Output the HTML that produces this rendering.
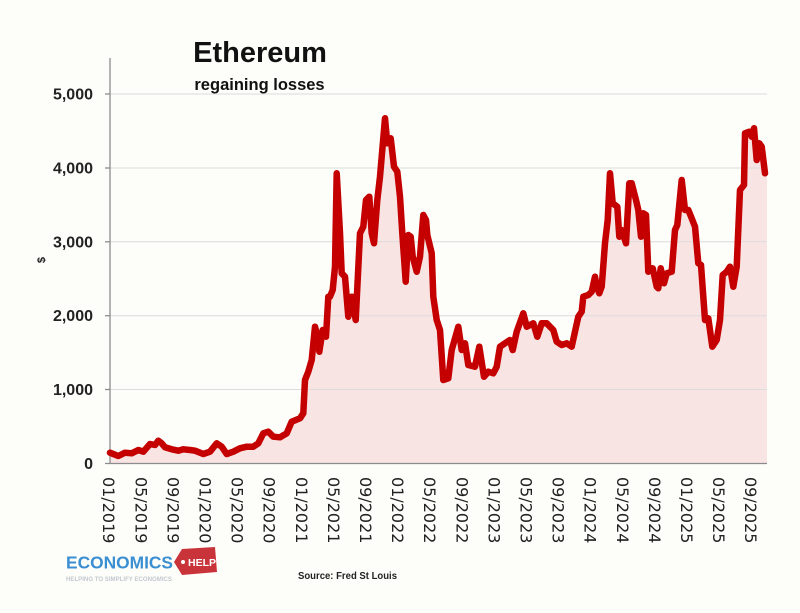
<!DOCTYPE html>
<html>
<head>
<meta charset="utf-8">
<style>
html,body{margin:0;padding:0;background:#fdfdf9;}
svg{display:block;}
</style>
</head>
<body>
<svg width="800" height="613" viewBox="0 0 800 613" xmlns="http://www.w3.org/2000/svg">
<rect x="0" y="0" width="800" height="613" fill="#fdfdf9"/>

<!-- fill area -->
<polygon fill="#f9e4e4" points="110,452.7 118.3,456 125,452.7 131.7,453.3 138.3,450 143.3,451.7 150,444 155,445 158.3,440.7 161.7,443.3 165,447.3 171.7,449.3 178.3,450.7 183.3,449.3 190,450 195,450.7 203.3,454 210,451.7 216.7,443.3 221.7,446.7 226.7,454 233.3,451.7 240,448.3 246.7,446.7 253.3,446.7 258.3,443.3 263.3,433.3 268.3,431.7 273.3,436.7 280,437.3 286.7,433.3 291.7,421.7 300,418.3 303.3,413.3 305,380 308.3,371.7 311.7,360 315,326.7 318.3,340 319.3,351.7 322.7,330 326,336.7 328.3,296.7 330,296.7 332.7,290 335,266.7 336.7,173.3 340,233 341.7,273.3 345,276.7 348.3,316.7 351.7,296.7 355.7,320 360,233.3 363.3,226.7 366,200 369.3,196.7 371.7,233.3 374,243.3 377.3,200 380,176.7 385,118.3 387.3,143.3 390.7,138.3 394,166.7 397.3,171.7 400,196.7 402.3,233.3 405.7,281.7 408.3,235 410.7,236.7 412.7,256.7 416.7,271.7 420,256.7 423.3,215 426,220 427.3,235 431.7,253.3 433.3,296.7 436.7,320 440,330 443.3,380 448.3,378.3 451.7,350 458.3,326.7 461.7,350 465,343.3 468.3,365 475,366.7 479.3,346.7 484,376.7 488.3,371.7 493.3,373.3 496.7,366.7 500,346.7 505,343.3 510,340 512.7,350 516.7,331.7 523.3,313.3 526.7,326.7 533.3,323.3 537.3,336.7 541.7,323.3 546.7,323.3 550,326.7 553.3,330 556.7,341.7 561.7,345 566.7,343.3 571.7,346.7 575,331.7 578.3,316.7 581.7,311.7 583.3,296.7 588.3,295 591.7,291.7 595,276.7 596.7,286.7 599.3,293.3 601.7,286.7 605,243.3 607.7,220 610,173.3 612.7,203.3 617.3,206.7 619.3,236.7 621.7,230 626,243.3 629.3,183.3 631.7,183.3 636,200 638.3,210 641,236.7 643.3,213.3 646,215 648.3,271.7 652.7,268.3 656.7,286.7 658.3,288.3 660.7,268.3 664,283.3 666.7,273.3 671.7,271.7 675,230 677.3,225 681.7,180 685,210 688.3,210 691.7,218.3 695,226.7 698.3,263.3 701,265 705,320 708.3,318.3 712.3,346.7 716.7,340 720,320 722.7,275 726.7,271.7 730,266.7 733.3,286.7 736.7,266.7 740,190 744,185 745,133.3 749.3,131.7 751.7,136.7 754,128.3 756.7,160 759.3,143.3 761.7,146.7 765,173.3 767,175 767,463 110,463"/>

<!-- gridlines -->
<g stroke="#dcdcdc" stroke-width="1">
<line x1="110" y1="389.5" x2="767" y2="389.5"/>
<line x1="110" y1="315.7" x2="767" y2="315.7"/>
<line x1="110" y1="241.8" x2="767" y2="241.8"/>
<line x1="110" y1="168" x2="767" y2="168"/>
<line x1="110" y1="94" x2="767" y2="94"/>
</g>

<!-- axes -->
<g stroke="#8c8c8c" stroke-width="1.3">
<line x1="110" y1="58" x2="110" y2="463.5"/>
<line x1="105" y1="463.5" x2="767" y2="463.5"/>
<line x1="105" y1="389.5" x2="110" y2="389.5"/>
<line x1="105" y1="315.7" x2="110" y2="315.7"/>
<line x1="105" y1="241.8" x2="110" y2="241.8"/>
<line x1="105" y1="168" x2="110" y2="168"/>
<line x1="105" y1="94" x2="110" y2="94"/>
</g>

<!-- series line -->
<polyline fill="none" stroke="#c40000" stroke-width="6.5" stroke-linejoin="round" stroke-linecap="round" points="110,452.7 118.3,456 125,452.7 131.7,453.3 138.3,450 143.3,451.7 150,444 155,445 158.3,440.7 161.7,443.3 165,447.3 171.7,449.3 178.3,450.7 183.3,449.3 190,450 195,450.7 203.3,454 210,451.7 216.7,443.3 221.7,446.7 226.7,454 233.3,451.7 240,448.3 246.7,446.7 253.3,446.7 258.3,443.3 263.3,433.3 268.3,431.7 273.3,436.7 280,437.3 286.7,433.3 291.7,421.7 300,418.3 303.3,413.3 305,380 308.3,371.7 311.7,360 315,326.7 318.3,340 319.3,351.7 322.7,330 326,336.7 328.3,296.7 330,296.7 332.7,290 335,266.7 336.7,173.3 340,233 341.7,273.3 345,276.7 348.3,316.7 351.7,296.7 355.7,320 360,233.3 363.3,226.7 366,200 369.3,196.7 371.7,233.3 374,243.3 377.3,200 380,176.7 385,118.3 387.3,143.3 390.7,138.3 394,166.7 397.3,171.7 400,196.7 402.3,233.3 405.7,281.7 408.3,235 410.7,236.7 412.7,256.7 416.7,271.7 420,256.7 423.3,215 426,220 427.3,235 431.7,253.3 433.3,296.7 436.7,320 440,330 443.3,380 448.3,378.3 451.7,350 458.3,326.7 461.7,350 465,343.3 468.3,365 475,366.7 479.3,346.7 484,376.7 488.3,371.7 493.3,373.3 496.7,366.7 500,346.7 505,343.3 510,340 512.7,350 516.7,331.7 523.3,313.3 526.7,326.7 533.3,323.3 537.3,336.7 541.7,323.3 546.7,323.3 550,326.7 553.3,330 556.7,341.7 561.7,345 566.7,343.3 571.7,346.7 575,331.7 578.3,316.7 581.7,311.7 583.3,296.7 588.3,295 591.7,291.7 595,276.7 596.7,286.7 599.3,293.3 601.7,286.7 605,243.3 607.7,220 610,173.3 612.7,203.3 617.3,206.7 619.3,236.7 621.7,230 626,243.3 629.3,183.3 631.7,183.3 636,200 638.3,210 641,236.7 643.3,213.3 646,215 648.3,271.7 652.7,268.3 656.7,286.7 658.3,288.3 660.7,268.3 664,283.3 666.7,273.3 671.7,271.7 675,230 677.3,225 681.7,180 685,210 688.3,210 691.7,218.3 695,226.7 698.3,263.3 701,265 705,320 708.3,318.3 712.3,346.7 716.7,340 720,320 722.7,275 726.7,271.7 730,266.7 733.3,286.7 736.7,266.7 740,190 744,185 745,133.3 749.3,131.7 751.7,136.7 754,128.3 756.7,160 759.3,143.3 761.7,146.7 765,173.3"/>

<!-- title -->
<text x="260" y="62" text-anchor="middle" font-family="Liberation Sans, sans-serif" font-weight="bold" font-size="29" fill="#111">Ethereum</text>
<text x="259.5" y="90" text-anchor="middle" font-family="Liberation Sans, sans-serif" font-weight="bold" font-size="16.5" fill="#111">regaining losses</text>

<!-- y labels -->
<g font-family="Liberation Sans, sans-serif" font-weight="bold" font-size="16" fill="#222" text-anchor="end">
<text x="93" y="99.5">5,000</text>
<text x="93" y="173.5">4,000</text>
<text x="93" y="247.3">3,000</text>
<text x="93" y="321.2">2,000</text>
<text x="93" y="395">1,000</text>
<text x="93" y="469">0</text>
</g>
<text transform="translate(45,260) rotate(-90)" text-anchor="middle" font-family="Liberation Sans, sans-serif" font-weight="bold" font-size="11" fill="#222">$</text>

<!-- x labels -->
<g font-family="DejaVu Sans, sans-serif" font-size="16" fill="#222">
<text transform="translate(109,477) rotate(90)" x="0" y="5.8">01/2019</text>
<text transform="translate(141.1,477) rotate(90)" x="0" y="5.8">05/2019</text>
<text transform="translate(173.2,477) rotate(90)" x="0" y="5.8">09/2019</text>
<text transform="translate(205.3,477) rotate(90)" x="0" y="5.8">01/2020</text>
<text transform="translate(237.4,477) rotate(90)" x="0" y="5.8">05/2020</text>
<text transform="translate(269.5,477) rotate(90)" x="0" y="5.8">09/2020</text>
<text transform="translate(301.6,477) rotate(90)" x="0" y="5.8">01/2021</text>
<text transform="translate(333.7,477) rotate(90)" x="0" y="5.8">05/2021</text>
<text transform="translate(365.8,477) rotate(90)" x="0" y="5.8">09/2021</text>
<text transform="translate(397.9,477) rotate(90)" x="0" y="5.8">01/2022</text>
<text transform="translate(430,477) rotate(90)" x="0" y="5.8">05/2022</text>
<text transform="translate(462.1,477) rotate(90)" x="0" y="5.8">09/2022</text>
<text transform="translate(494.2,477) rotate(90)" x="0" y="5.8">01/2023</text>
<text transform="translate(526.3,477) rotate(90)" x="0" y="5.8">05/2023</text>
<text transform="translate(558.4,477) rotate(90)" x="0" y="5.8">09/2023</text>
<text transform="translate(590.5,477) rotate(90)" x="0" y="5.8">01/2024</text>
<text transform="translate(622.6,477) rotate(90)" x="0" y="5.8">05/2024</text>
<text transform="translate(654.7,477) rotate(90)" x="0" y="5.8">09/2024</text>
<text transform="translate(686.8,477) rotate(90)" x="0" y="5.8">01/2025</text>
<text transform="translate(718.9,477) rotate(90)" x="0" y="5.8">05/2025</text>
<text transform="translate(751,477) rotate(90)" x="0" y="5.8">09/2025</text>
</g>

<!-- logo -->
<text x="66" y="568.5" font-family="Liberation Sans, sans-serif" font-weight="bold" font-size="17.5" fill="#3a8fd2" textLength="107" lengthAdjust="spacingAndGlyphs">ECONOMICS</text>
<polygon points="182,549 215,547 217,572 182,575 174,562" fill="#c9343a"/>
<circle cx="183" cy="562" r="2" fill="#fff"/>
<text x="188" y="566" font-family="Liberation Sans, sans-serif" font-weight="bold" font-size="10.5" fill="#fff">HELP</text>
<text x="66" y="581" font-family="Liberation Sans, sans-serif" font-weight="bold" font-size="6.5" fill="#c4c9d0" textLength="106" lengthAdjust="spacingAndGlyphs">HELPING TO SIMPLIFY ECONOMICS</text>

<!-- source -->
<text x="298" y="579" font-family="Liberation Sans, sans-serif" font-weight="bold" font-size="10.5" fill="#222" textLength="99" lengthAdjust="spacingAndGlyphs">Source: Fred St Louis</text>
</svg>
</body>
</html>
